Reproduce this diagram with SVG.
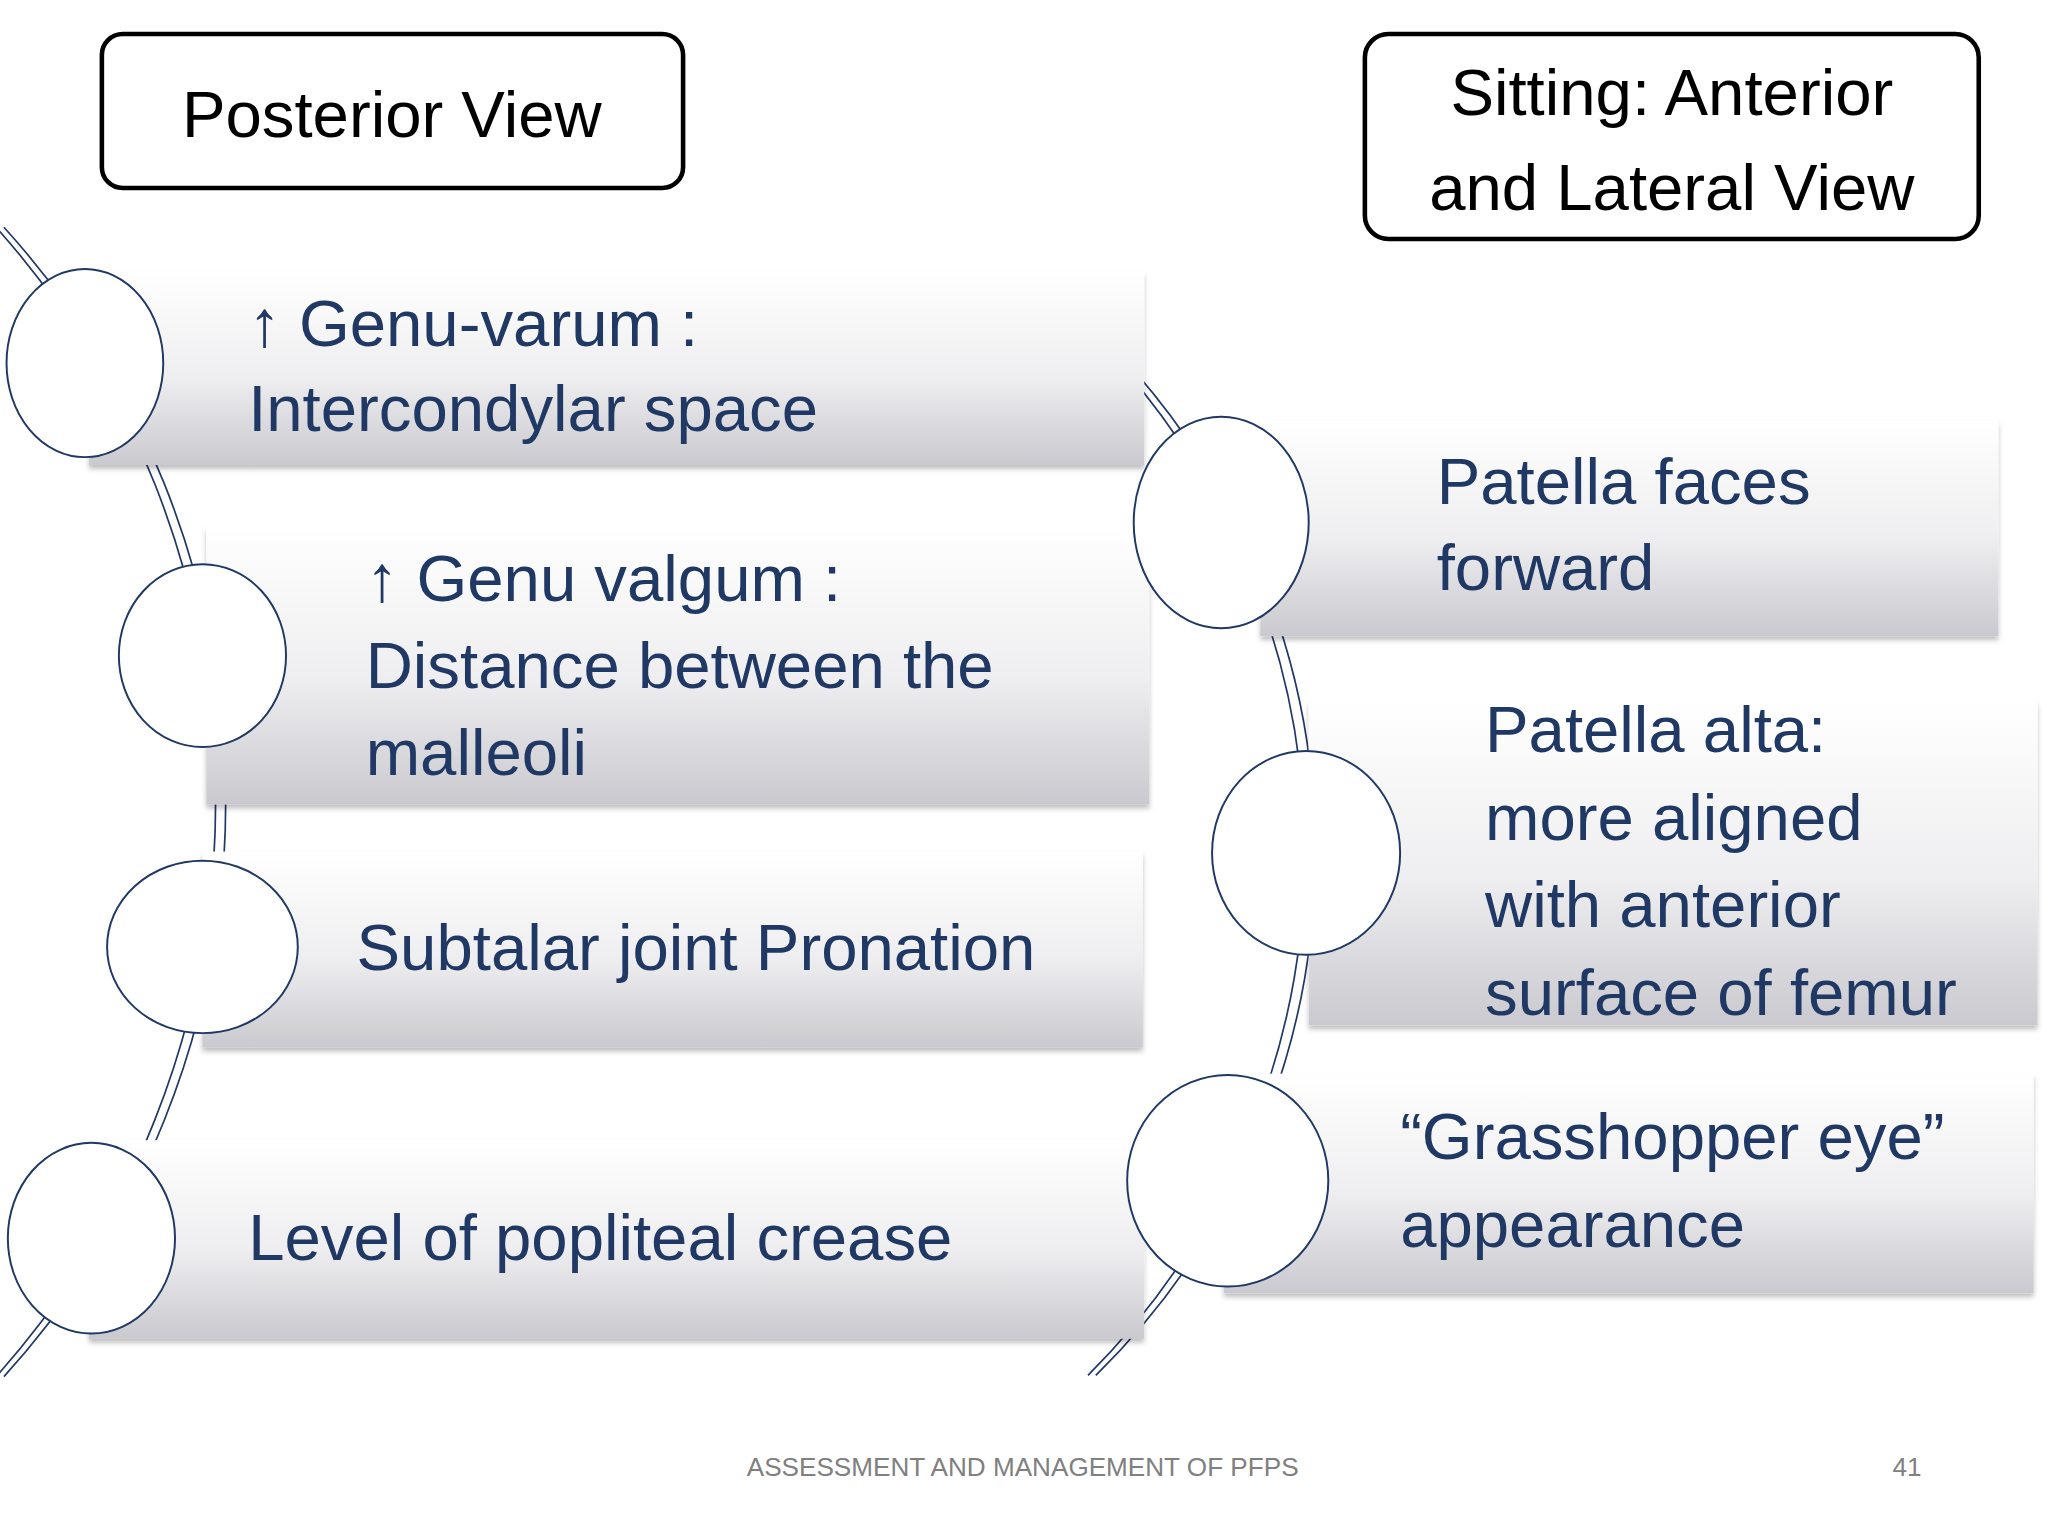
<svg xmlns="http://www.w3.org/2000/svg" width="2048" height="1536" viewBox="0 0 2048 1536">
<defs>
<linearGradient id="bg" x1="0" y1="0" x2="0" y2="1"><stop offset="0" stop-color="#ffffff"/><stop offset="0.55" stop-color="#eeeef0"/><stop offset="1" stop-color="#c9c9cf"/></linearGradient>
<linearGradient id="side" x1="0" y1="0" x2="1" y2="0"><stop offset="0" stop-color="#ffffff" stop-opacity="0.9"/><stop offset="0.12" stop-color="#ffffff" stop-opacity="0"/></linearGradient>
<filter id="sh" x="-5%" y="-10%" width="110%" height="125%"><feDropShadow dx="0" dy="3" stdDeviation="2" flood-color="#000" flood-opacity="0.25"/></filter>
</defs>
<style>
.bar{fill:url(#bg);filter:url(#sh)}
.circ{fill:#fff;stroke:#203864;stroke-width:1.5}
.arc{fill:none;stroke:#203864;stroke-width:1.3}
.t{font-family:"Liberation Sans",Arial,sans-serif;font-size:50px;fill:#203864}
.hdr{font-family:"Liberation Sans",Arial,sans-serif;font-size:50px;fill:#000;text-anchor:middle}
.box{fill:#fff;stroke:#000;stroke-width:3.5}
.ft{font-family:"Liberation Sans",Arial,sans-serif;font-size:20px;fill:#808080}
</style>
<rect width="2048" height="1536" fill="#fff"/>
<g transform="scale(1.3061)">
<g id="connectors">
<path class="arc" d="M -3 174 A 660 660 0 0 1 -3 1054"/>
<path class="arc" d="M 3 174 A 655 655 0 0 1 3 1054"/>
<path class="arc" d="M 833 253 A 565 565 0 0 1 833 1053"/>
<path class="arc" d="M 839 253 A 560 560 0 0 1 839 1053"/>
</g>
<g id="header-left"><rect class="box" x="78" y="26" width="445" height="118" rx="16"/><text class="hdr" x="300" y="105">Posterior View</text></g>
<g id="header-right"><rect class="box" x="1045" y="26" width="470" height="157" rx="18"/><text class="hdr" x="1280" y="88">Sitting: Anterior</text><text class="hdr" x="1280" y="161">and Lateral View</text></g>
<g id="n1"><rect class="bar" x="68" y="208" width="808" height="148"/><ellipse class="circ" cx="65" cy="278" rx="60" ry="72"/><text class="t" x="190" y="265">↑ Genu-varum :</text><text class="t" x="190" y="330">Intercondylar space</text></g>
<g id="n2"><rect class="bar" x="158" y="403" width="722" height="213"/><ellipse class="circ" cx="155" cy="502" rx="64" ry="70"/><text class="t" x="280" y="460">↑ Genu valgum :</text><text class="t" x="280" y="527">Distance between the</text><text class="t" x="280" y="593">malleoli</text></g>
<g id="n3"><rect class="bar" x="155" y="652" width="720" height="150"/><ellipse class="circ" cx="155" cy="725" rx="73" ry="66"/><text class="t" x="273" y="743">Subtalar joint Pronation</text></g>
<g id="n4"><rect class="bar" x="68" y="873" width="808" height="152"/><ellipse class="circ" cx="70" cy="948" rx="64" ry="73"/><text class="t" x="190" y="965">Level of popliteal crease</text></g>
<g id="n5"><rect class="bar" x="965" y="322" width="565" height="165"/><ellipse class="circ" cx="935" cy="400" rx="67" ry="81"/><text class="t" x="1100" y="386">Patella faces</text><text class="t" x="1100" y="452">forward</text></g>
<g id="n6"><rect class="bar" x="1002" y="537" width="558" height="248"/><ellipse class="circ" cx="1000" cy="653" rx="72" ry="78"/><text class="t" x="1137" y="576">Patella alta:</text><text class="t" x="1137" y="643">more aligned</text><text class="t" x="1137" y="710">with anterior</text><text class="t" x="1137" y="777">surface of femur</text></g>
<g id="n7"><rect class="bar" x="937" y="822" width="620" height="168"/><ellipse class="circ" cx="940" cy="904" rx="77" ry="81"/><text class="t" x="1072" y="887">“Grasshopper eye”</text><text class="t" x="1072" y="955">appearance</text></g>
<text class="ft" x="783" y="1130" text-anchor="middle">ASSESSMENT AND MANAGEMENT OF PFPS</text>
<text class="ft" x="1460" y="1130" text-anchor="middle">41</text>
</g>
</svg>
